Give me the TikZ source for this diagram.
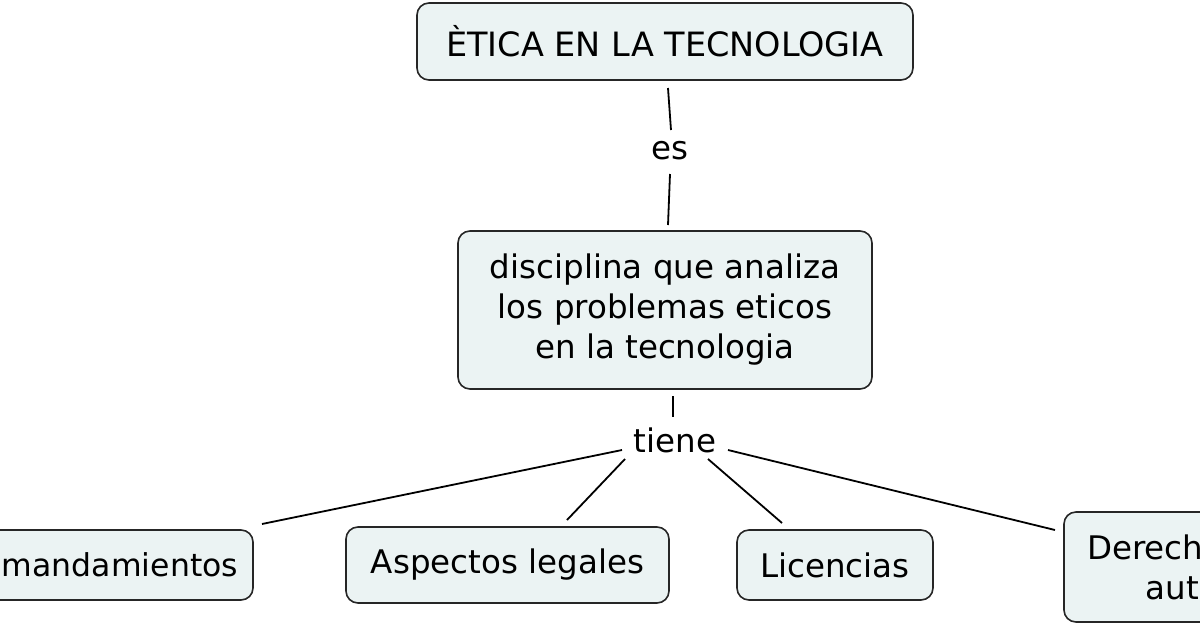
\documentclass[tikz,border=0pt]{standalone}
\usepackage{fontspec}
\setmainfont{DejaVu Sans}
\begin{document}
\begin{tikzpicture}[x=1pt,y=-1pt,
  concept/.style={draw=black!85,line width=1.6pt,fill=boxfill,rounded corners=12pt,inner sep=0pt,align=center,font=\fontsize{32.5}{40}\selectfont},
  linkw/.style={font=\fontsize{32.5}{36}\selectfont,inner sep=2pt},
  conn/.style={line width=1.8pt}]
\definecolor{boxfill}{HTML}{EBF3F3}
\useasboundingbox (0,0) rectangle (1200,630);
\clip (0,0) rectangle (1200,630);
\node[concept,minimum width=496pt,minimum height=77pt,font=\fontsize{33.5}{40}\selectfont] (top) at (665,41.5) {ÈTICA EN LA TECNOLOGIA};
\node[linkw] (es) at (670,151) {es};
\node[concept,minimum width=414pt,minimum height=158pt] (mid) at (665,310) {disciplina que analiza\\ los problemas eticos\\ en la tecnologia};
\node[linkw] (tiene) at (675,440) {tiene};
\node[concept,minimum width=300pt,minimum height=70pt,font=\fontsize{31.5}{40}\selectfont] (mand) at (103,565) {\hspace*{34pt}mandamientos};
\node[concept,minimum width=323pt,minimum height=76pt] (asp) at (507.5,565) {Aspectos legales};
\node[concept,minimum width=250pt,minimum height=110pt] (der) at (1189,567) {Derechos de\\autor};
\node[concept,minimum width=196pt,minimum height=70pt] (lic) at (835,565) {Licencias};
\coordinate (a1) at (668,88); \coordinate (a2) at (671,130);
\coordinate (b1) at (670,174); \coordinate (b2) at (668,225);
\draw[conn] (a1) -- (a2); \draw[conn] (b1) -- (b2);
\coordinate (c1) at (673,396); \coordinate (c2) at (673,417);
\draw[conn] (c1) -- (c2);
\draw[conn] (622,450) -- (262,524);
\draw[conn] (625,459) -- (567,520);
\draw[conn] (708,459) -- (782,523);
\draw[conn] (728,450) -- (1055,530);
\end{tikzpicture}
\end{document}
